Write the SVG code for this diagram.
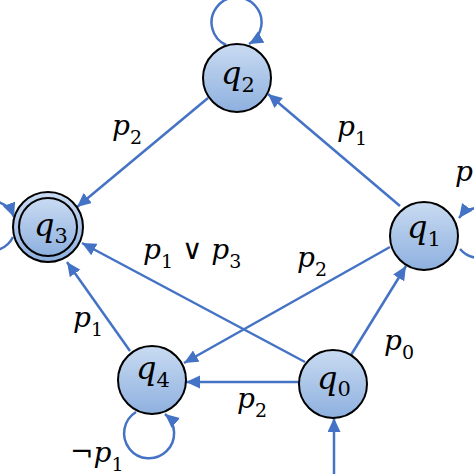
<svg xmlns="http://www.w3.org/2000/svg" width="474" height="474" viewBox="0 0 474 474">
<defs>
<linearGradient id="g" x1="0" y1="0" x2="0" y2="1">
<stop offset="0" stop-color="#c9dbf2"/>
<stop offset="1" stop-color="#8eb0df"/>
</linearGradient>
<marker id="ah" markerUnits="userSpaceOnUse" markerWidth="16" markerHeight="14" refX="14" refY="6.5" orient="auto">
<path d="M0,0 L14,6.5 L0,13 z" fill="#4472c4"/>
</marker>
<style>
.node{fill:url(#g);stroke:#000;stroke-width:2}
.e{fill:none;stroke:#4472c4;stroke-width:2.5;marker-end:url(#ah)}
.t{font-family:'DejaVu Serif',serif;fill:#000}
.q{font-size:32px}
.lb{font-size:28px}
.it{font-style:italic}
.sq{font-size:21px;font-style:normal}
.sp{font-size:19px;font-style:normal}
</style>
</defs>
<g id="connectors">
<path class="e" d="M299,382 L186,382"/>
<path class="e" d="M351,355 L406,266"/>
<path class="e" d="M305,362 L82,243"/>
<path class="e" d="M390,247 L184,363"/>
<path class="e" d="M400,206 L268,94"/>
<path class="e" d="M208,98 L77,207"/>
<path class="e" d="M130,351 L67,262"/>
<path class="e" d="M334,474 L334,418"/>
<path class="e" d="M226,45 A25 25 0 1 1 249,44"/>
<path class="e" d="M13,237 A25 25 0 1 1 14,217"/>
<path class="e" d="M460,249 A25 25 0 1 0 459,218"/>
<path class="e" d="M136,412 A25 25 0 1 0 165,414"/>
</g>
<g id="q0"><circle class="node" cx="333" cy="384" r="34"/><text class="t q" x="317" y="389"><tspan class="it">q</tspan><tspan class="sq" y="396">0</tspan></text></g>
<g id="q1"><circle class="node" cx="424" cy="236" r="34"/><text class="t q" x="407" y="238"><tspan class="it">q</tspan><tspan class="sq" y="246">1</tspan></text></g>
<g id="q2"><circle class="node" cx="237" cy="78" r="34"/><text class="t q" x="221" y="84"><tspan class="it">q</tspan><tspan class="sq" y="92">2</tspan></text></g>
<g id="q3"><circle class="node" cx="48" cy="227" r="35"/><circle class="node" cx="48" cy="227" r="29"/><text class="t q" x="34" y="236"><tspan class="it">q</tspan><tspan class="sq" y="243">3</tspan></text></g>
<g id="q4"><circle class="node" cx="152" cy="380" r="34"/><text class="t q" x="136" y="379"><tspan class="it">q</tspan><tspan class="sq" y="387">4</tspan></text></g>
<g id="labels">
<text class="t lb" x="112" y="135"><tspan class="it">p</tspan><tspan class="sp" y="144">2</tspan></text>
<text class="t lb" x="337" y="136"><tspan class="it">p</tspan><tspan class="sp" y="145">1</tspan></text>
<text class="t lb" x="455" y="181"><tspan class="it">p</tspan></text>
<text class="t lb" x="143" y="259"><tspan class="it">p</tspan><tspan class="sp" y="268">1</tspan><tspan y="259"> ∨ </tspan><tspan class="it">p</tspan><tspan class="sp" y="268">3</tspan></text>
<text class="t lb" x="297" y="267"><tspan class="it">p</tspan><tspan class="sp" y="276">2</tspan></text>
<text class="t lb" x="384" y="350"><tspan class="it">p</tspan><tspan class="sp" y="359">0</tspan></text>
<text class="t lb" x="237" y="408"><tspan class="it">p</tspan><tspan class="sp" y="417">2</tspan></text>
<text class="t lb" x="73" y="327"><tspan class="it">p</tspan><tspan class="sp" y="336">1</tspan></text>
<text class="t lb" x="70" y="462">¬<tspan class="it">p</tspan><tspan class="sp" y="471">1</tspan></text>
</g>
</svg>
